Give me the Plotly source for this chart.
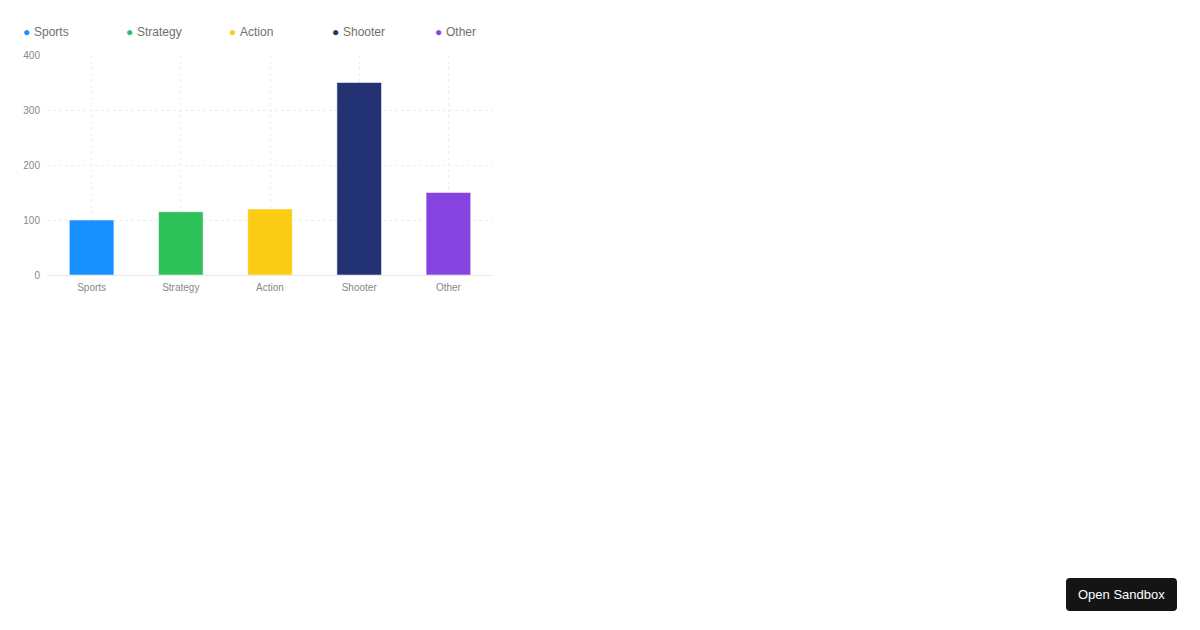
import plotly.graph_objects as go

genres = ["Sports", "Strategy", "Action", "Shooter", "Other"]
sales = [100, 115, 120, 350, 150]
colors = ["#1890ff", "#2fc25b", "#facc14", "#223273", "#8543e0"]

# page body has an 8px margin, so screen coords are shifted by OFF
OFF = 8
W, H = 1200 - 2 * OFF, 630 - 2 * OFF
L, R, T, B = 47 - OFF, 20, 55 - OFF, 630 - 275 - OFF
PW, PH = W - L - R, H - T - B
plot_right = 493


def px(x):
    # screen x -> paper x
    return (x - OFF - L) / PW


def py(y):
    # screen y -> paper y
    return (H - B - (y - OFF)) / PH


fig = go.Figure()
for g, v, c in zip(genres, sales, colors):
    fig.add_trace(go.Bar(x=[g], y=[v], name=g, marker_color=c, width=0.5,
                         marker_line=dict(color="rgba(255,255,255,0.5)", width=1),
                         showlegend=False))

fig.update_layout(
    width=W, height=H,
    margin=dict(l=L, r=R, t=T, b=B, autoexpand=False),
    plot_bgcolor="white", paper_bgcolor="white",
    barmode="overlay", showlegend=False,
    font=dict(family="Liberation Sans, Arial, sans-serif", color="#888"),
    xaxis=dict(domain=[0, px(plot_right)], showgrid=True, gridcolor="#eeeeee",
               griddash="dot", showline=True, linecolor="#e8e8e8", linewidth=1,
               tickfont=dict(size=10, color="#888"), ticks="", ticklabelstandoff=3),
    yaxis=dict(range=[0, 400], dtick=100, showgrid=True, gridcolor="#eeeeee",
               griddash="dot", zeroline=False, ticks="", ticklabelstandoff=6,
               tickfont=dict(size=10, color="#888")),
)

# legend drawn as dot + label, one slot of 103px per genre
for i, (g, c) in enumerate(zip(genres, colors)):
    x0 = 26 + i * 103
    fig.add_annotation(xref="paper", yref="paper", x=px(x0), y=py(32),
                       text="●", showarrow=False, xanchor="center", yanchor="middle",
                       font=dict(size=12, color=c))
    fig.add_annotation(xref="paper", yref="paper", x=px(x0 + 6), y=py(32),
                       text=g, showarrow=False, xanchor="left", yanchor="middle",
                       font=dict(size=12, color="#707070"))

# "Open Sandbox" button
bx0, bx1, by0, by1, r = 1066, 1177, 578, 611, 4
path = (f"M {px(bx0 + r)} {py(by0)} L {px(bx1 - r)} {py(by0)} "
        f"Q {px(bx1)} {py(by0)} {px(bx1)} {py(by0 + r)} L {px(bx1)} {py(by1 - r)} "
        f"Q {px(bx1)} {py(by1)} {px(bx1 - r)} {py(by1)} L {px(bx0 + r)} {py(by1)} "
        f"Q {px(bx0)} {py(by1)} {px(bx0)} {py(by1 - r)} L {px(bx0)} {py(by0 + r)} "
        f"Q {px(bx0)} {py(by0)} {px(bx0 + r)} {py(by0)} Z")
fig.add_shape(type="path", path=path, xref="paper", yref="paper",
              fillcolor="#141414", line_width=0, layer="above")
fig.add_annotation(xref="paper", yref="paper", x=px((bx0 + bx1) / 2),
                   y=py((by0 + by1) / 2), text="Open Sandbox", showarrow=False,
                   font=dict(size=13, color="white"), xanchor="center", yanchor="middle")

fig.write_html("out.html")
